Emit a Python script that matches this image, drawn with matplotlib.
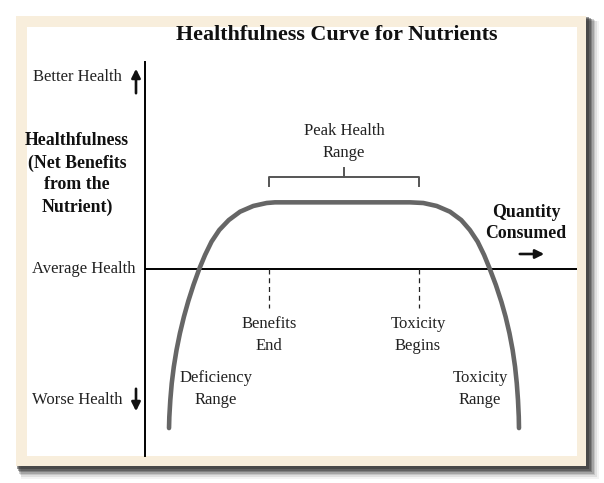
import numpy as np
import matplotlib.pyplot as plt
from matplotlib.patches import Rectangle

# %% Data  (x = quantity consumed, y = healthfulness, peak = 1)

left_x = [0.556, 0.563, 0.586, 0.619, 0.667, 0.73, 0.808, 0.901, 1.003, 1.122, 1.255,
          1.39, 1.54, 1.72, 1.94, 2.2, 2.507, 2.817, 3.009]
left_y = [-2.41, -2.24, -1.985, -1.732, -1.48, -1.227, -0.974, -0.723, -0.485, -0.242, 0.0,
          0.212, 0.414, 0.591, 0.742, 0.868, 0.955, 1.0, 1.01]
right_x = [6.134, 6.442, 6.752, 7.06, 7.32, 7.52, 7.70, 7.85, 7.982, 8.122, 8.251,
           8.347, 8.437, 8.51, 8.566, 8.606, 8.634, 8.652, 8.657]
right_y = [1.01, 1.0, 0.955, 0.868, 0.742, 0.591, 0.414, 0.212, 0.0, -0.242, -0.5,
           -0.723, -0.974, -1.227, -1.48, -1.732, -1.985, -2.238, -2.41]

benefits_end = 2.87
toxicity_begins = 6.34
marker_depth = -0.59
bracket_level = 1.39

W, H = 604, 483
serif = ['Liberation Serif', 'DejaVu Serif']
curve_col = '#666666'


def px(x, y):
    return x / W, 1 - y / H


fig = plt.figure(figsize=(W / 100, H / 100), dpi=100)
fig.patch.set_facecolor('white')

# %% Frame, shadow and cream border
bg = fig.add_axes([0, 0, 1, 1])
bg.set_xlim(0, W)
bg.set_ylim(H, 0)
bg.axis('off')
for i, a in enumerate([0.06, 0.1, 0.15, 0.22, 0.3, 0.4, 0.5]):
    off = 12 - i * 1.5
    bg.add_patch(Rectangle((16 + off * 0.45, 16 + off * 0.45), 570 + off * 0.6, 450 + off * 0.6,
                           facecolor='#333333', edgecolor='none', alpha=a))
bg.add_patch(Rectangle((16, 16), 570, 450, facecolor='#f8eedc', edgecolor='none'))
bg.add_patch(Rectangle((27, 27), 550, 429, facecolor='white', edgecolor='none'))

# %% Chart axes
x_lo, x_hi = 145, 577
y_top, y_bot, y_zero = 62, 456, 269
ax = fig.add_axes([x_lo / W, 1 - y_bot / H, (x_hi - x_lo) / W, (y_bot - y_top) / H])
ax.set_xlim(0, 10)
ax.set_ylim(-(y_bot - y_zero) / 66, (y_zero - y_top) / 66)
ax.patch.set_alpha(0)
for s in ['top', 'right', 'bottom']:
    ax.spines[s].set_visible(False)
ax.spines['left'].set_linewidth(1.4)
ax.set_xticks([])
ax.set_yticks([])
ax.axhline(0, color='black', lw=1.4)

ax.plot(left_x + right_x, left_y + right_y, color=curve_col, lw=3.3,
        solid_capstyle='round', solid_joinstyle='round')

for xv in [benefits_end, toxicity_begins]:
    ax.plot([xv, xv], [0, marker_depth], color='#222222', lw=0.9, ls=(0, (4, 3)))

# bracket over the plateau
mid = (benefits_end + toxicity_begins) / 2
ax.plot([benefits_end, benefits_end, toxicity_begins, toxicity_begins],
        [bracket_level - 0.13, bracket_level, bracket_level, bracket_level - 0.13],
        color='#555555', lw=1.4)
ax.plot([mid, mid], [bracket_level, bracket_level + 0.14], color='#555555', lw=1.4)

# %% Text
fig.text(*px(337, 35), 'Healthfulness Curve for Nutrients', family=serif, weight='bold',
         fontsize=15.8, ha='center', va='center', color='#111111')

fs = 12
bfs = 12.8
fig.text(*px(122, 77), 'Better Health', family=serif, fontsize=fs, ha='right', va='center', color='#222222')
fig.text(*px(136, 269), 'Average Health', family=serif, fontsize=fs, ha='right', va='center', color='#222222')
fig.text(*px(122, 400), 'Worse Health', family=serif, fontsize=fs, ha='right', va='center', color='#222222')
fig.text(*px(77, 174), 'Healthfulness\n(Net Benefits\nfrom the\nNutrient)', family=serif,
         weight='bold', fontsize=bfs, ha='center', va='center', linespacing=1.38, color='#111111')
fig.text(*px(526, 223), 'Quantity\nConsumed', family=serif, weight='bold', fontsize=bfs,
         ha='center', va='center', linespacing=1.38, color='#111111')

centred = [
    ('Peak Health\nRange', 344, 142),
    ('Benefits\nEnd', 269, 335),
    ('Toxicity\nBegins', 418, 335),
    ('Deficiency\nRange', 216, 389),
    ('Toxicity\nRange', 480, 389),
]
for label, x, y in centred:
    fig.text(*px(x, y), label, family=serif, fontsize=fs, ha='center', va='center',
             linespacing=1.53, color='#222222')

arrow = dict(arrowstyle='-|>', color='#111111', lw=1.9, mutation_scale=13)
bg.annotate('', xy=(136, 66), xytext=(136, 96), arrowprops=arrow)
bg.annotate('', xy=(136, 414), xytext=(136, 386), arrowprops=arrow)
bg.annotate('', xy=(547, 254), xytext=(517, 254), arrowprops=arrow)

fig.savefig('out.png', dpi=100)
